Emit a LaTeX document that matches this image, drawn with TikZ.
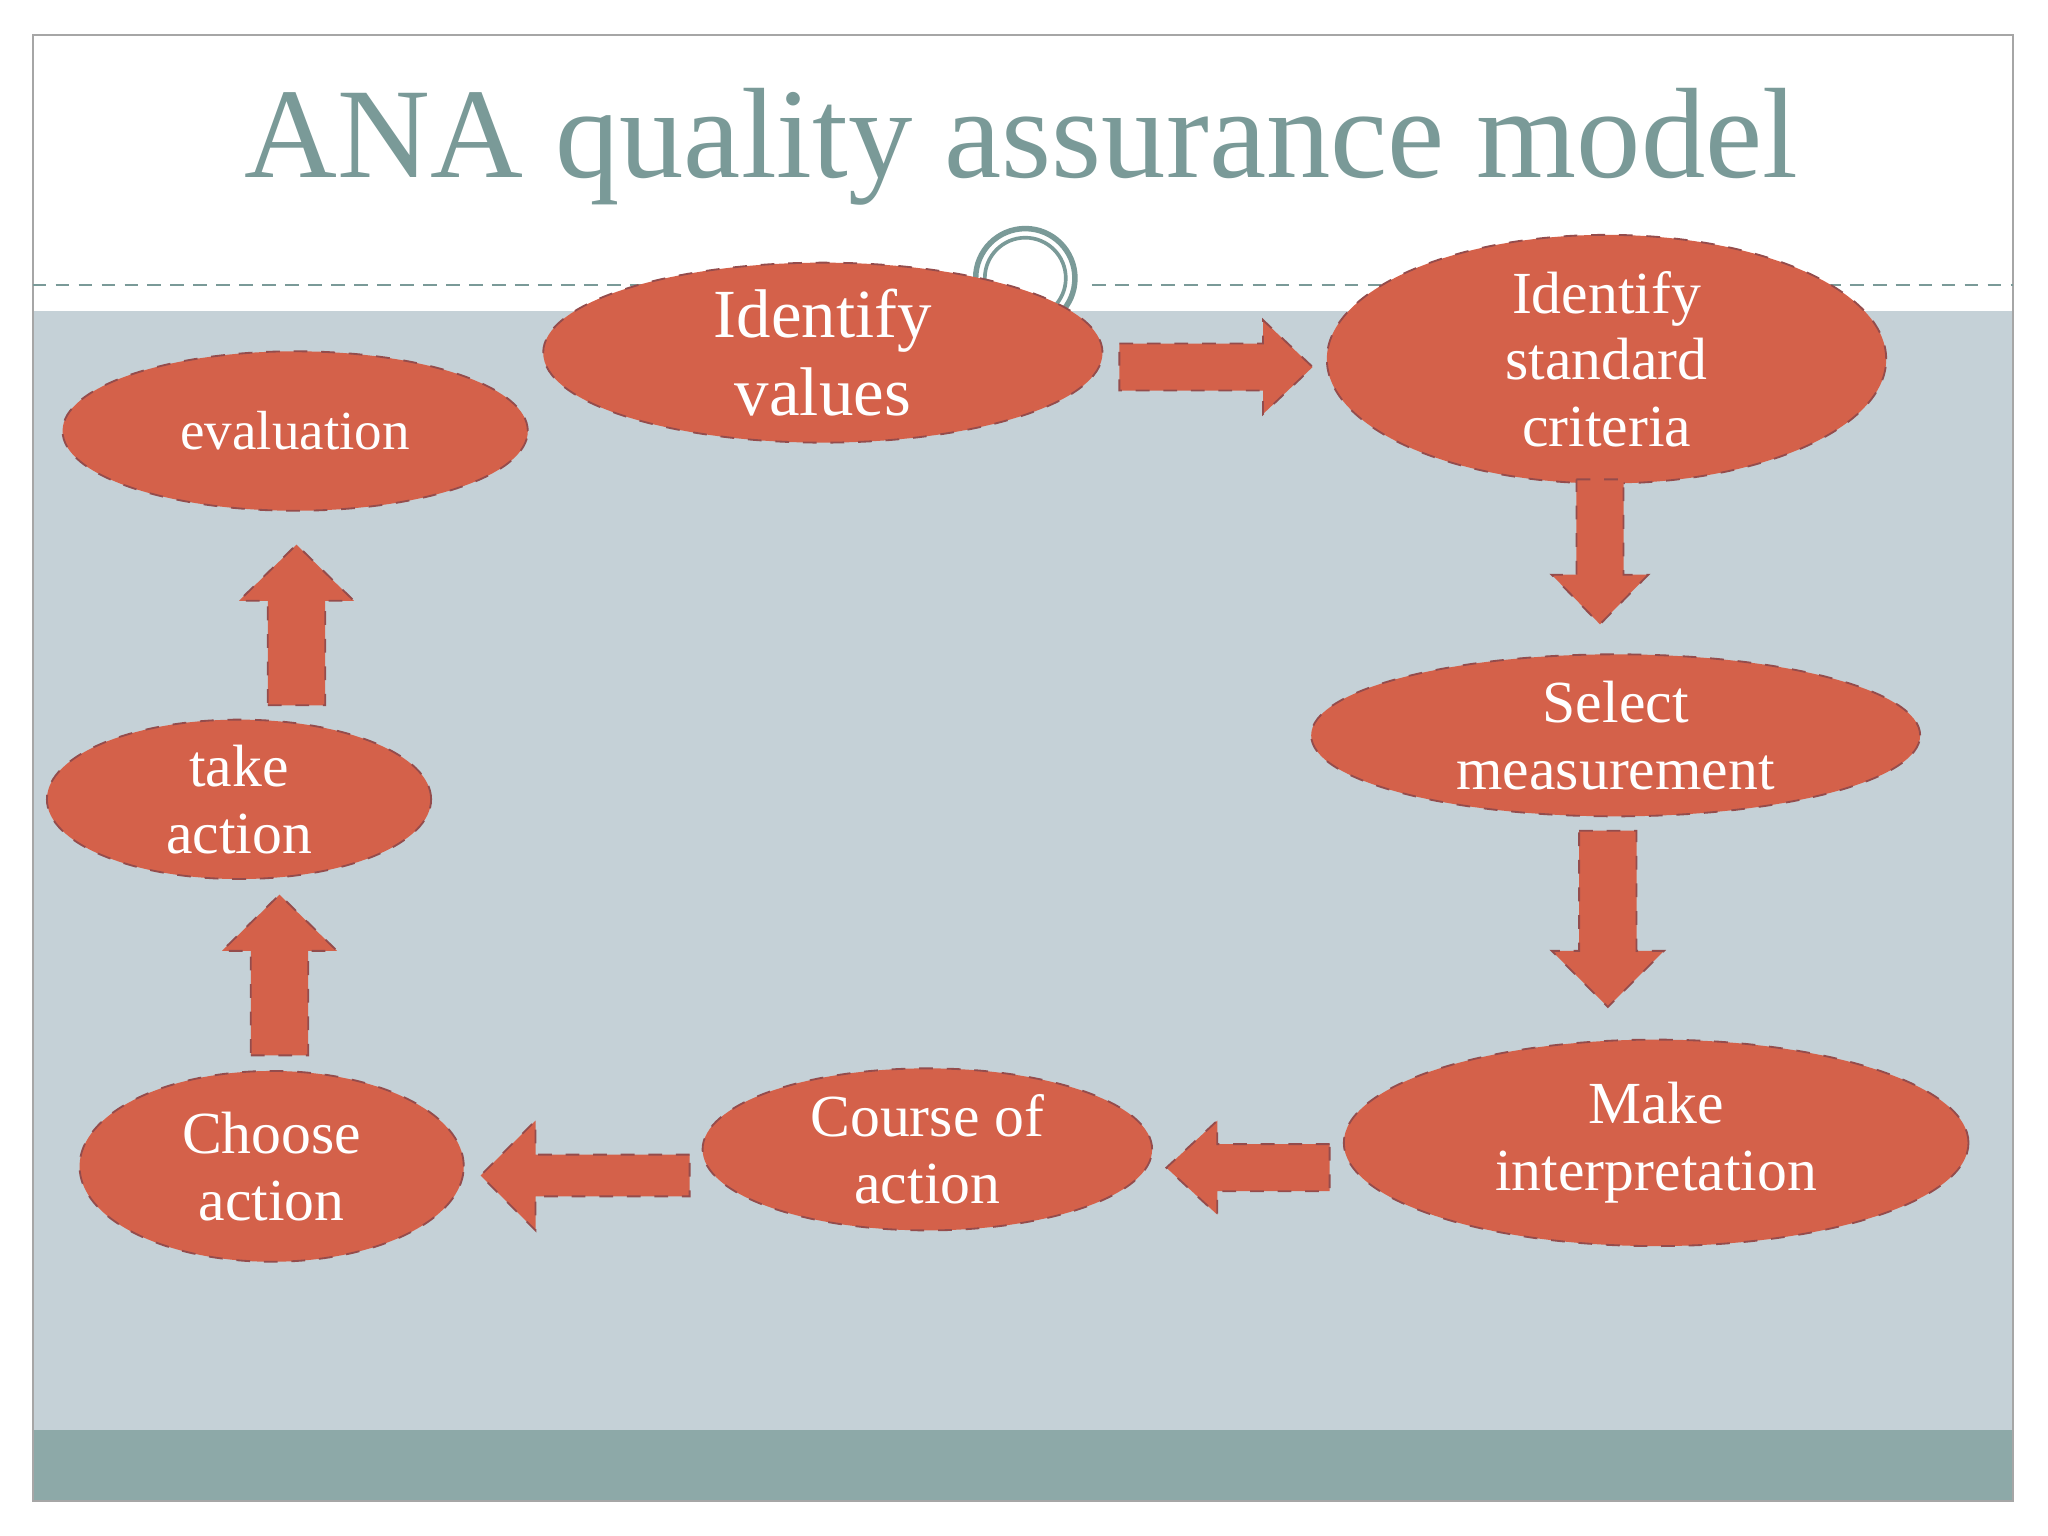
\documentclass[tikz,border=0pt]{standalone}
\usetikzlibrary{shapes.geometric}
\usepackage{fontspec}
\setmainfont{Liberation Serif}
\begin{document}
\begin{tikzpicture}[x=0.01cm,y=-0.01cm,
  el/.style={ellipse,draw=red!40!black!70,dashed,fill=fillc,text=white,align=center,inner sep=0pt},
  ar/.style={fill=fillc,draw=red!40!black!70,dashed}]
\definecolor{fillc}{HTML}{D4614A}
\definecolor{bgc}{HTML}{C5D1D7}
\definecolor{band}{HTML}{8DA9A8}
\definecolor{titc}{HTML}{7A9A98}
\useasboundingbox (0,0) rectangle (1568,1176);
\fill[white] (0,0) rectangle (1568,1176);
\fill[bgc] (25,238) rectangle (1541,1095);
\fill[band] (25,1095) rectangle (1541,1149);
\draw[gray!70] (25,27) rectangle (1541,1149);
\draw[titc,densely dashed] (25,218) -- (745,218);
\draw[titc,densely dashed] (836,218) -- (1541,218);
\fill[white] (785,213) circle (40);
\draw[titc,line width=1.2pt] (785,213) circle (38);
\draw[titc,line width=0.8pt] (785,213) circle (31);
\node[text=titc,font=\fontsize{28}{28}\selectfont] (title) at (782,112) {ANA quality assurance model};
\node[el,minimum width=3.56cm,minimum height=1.22cm,font=\fontsize{12}{14}\selectfont] (ev) at (226,330) {evaluation};
\node[el,minimum width=4.28cm,minimum height=1.22cm,font=\fontsize{15}{17}\selectfont] (iv) at (630,270) {Identify\\values};
\node[el,minimum width=4.28cm,minimum height=1.6cm,font=\fontsize{13}{14.5}\selectfont] (is) at (1230,275) {Identify\\standard\\criteria};
\node[el,minimum width=4.66cm,minimum height=1.24cm,font=\fontsize{13}{14.5}\selectfont] (sm) at (1237,563) {Select\\measurement};
\node[el,minimum width=4.78cm,minimum height=1.58cm,font=\fontsize{13}{14.5}\selectfont] (mi) at (1268,875) {Make\\interpretation};
\node[el,minimum width=3.44cm,minimum height=1.24cm,font=\fontsize{13}{14.5}\selectfont] (co) at (710,880) {Course of\\action};
\node[el,minimum width=2.94cm,minimum height=1.46cm,font=\fontsize{13}{14.5}\selectfont] (ch) at (208,893) {Choose\\action};
\node[el,minimum width=2.94cm,minimum height=1.22cm,font=\fontsize{13}{14.5}\selectfont] (ta) at (183,612) {take\\action};
% right arrow
\draw[ar] (857,263) -- (967,263) -- (967,245) -- (1005,281) -- (967,317) -- (967,299) -- (857,299) -- cycle;
% down arrows
\draw[ar] (1207,367) -- (1243,367) -- (1243,440) -- (1262,440) -- (1225,478) -- (1188,440) -- (1207,440) -- cycle;
\draw[ar] (1209,636) -- (1253,636) -- (1253,728) -- (1274,728) -- (1231,771) -- (1188,728) -- (1209,728) -- cycle;
% left arrows
\draw[ar] (1018,876) -- (932,876) -- (932,858) -- (893,894) -- (932,930) -- (932,912) -- (1018,912) -- cycle;
\draw[ar] (528,884) -- (410,884) -- (410,858) -- (368,900) -- (410,942) -- (410,916) -- (528,916) -- cycle;
% up arrows
\draw[ar] (192,808) -- (236,808) -- (236,728) -- (258,728) -- (214,685) -- (170,728) -- (192,728) -- cycle;
\draw[ar] (205,540) -- (249,540) -- (249,460) -- (271,460) -- (227,417) -- (183,460) -- (205,460) -- cycle;
\end{tikzpicture}
\end{document}
